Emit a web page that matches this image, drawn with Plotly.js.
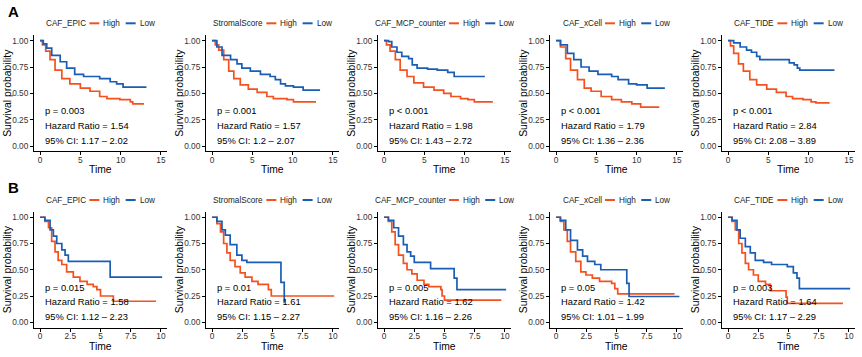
<!DOCTYPE html>
<html>
<head>
<meta charset="utf-8">
<script src="https://cdn.plot.ly/plotly-3.0.1.min.js"></script>
<style>html,body{margin:0;padding:0;background:#fff;}#plot{width:862px;height:357px;}</style>
</head>
<body>
<div id="plot"></div>
<script>
// ---------------- DATA ----------------
const groups = ["CAF_EPIC", "StromalScore", "CAF_MCP_counter", "CAF_xCell", "CAF_TIDE"];
const rowLabels = ["A", "B"];
const strata = ["High", "Low"];

// Row A (cohort A): time / survival step points
const A1_high_t = [0,0.3,0.7,1.24,1.86,2.7,3.7,5.0,6.2,7.4,8.3,9.9,11.2,11.5,12.9];
const A1_high_s = [1,0.96,0.9,0.82,0.72,0.64,0.59,0.55,0.52,0.47,0.45,0.44,0.42,0.40,0.40];
const A1_low_t  = [0,0.4,0.83,1.45,2.5,3.3,4.3,5.4,7.4,8.7,9.5,10.3,13.2];
const A1_low_s  = [1,0.97,0.93,0.86,0.80,0.74,0.68,0.66,0.64,0.61,0.59,0.56,0.56];

const A2_high_t = [0,0.4,0.83,1.45,2.07,2.7,3.5,4.5,5.6,6.8,7.6,9.3,10.1,12.9];
const A2_high_s = [1,0.96,0.91,0.82,0.71,0.64,0.58,0.54,0.51,0.47,0.45,0.44,0.42,0.42];
const A2_low_t  = [0,0.6,1.24,2.3,3.1,3.7,4.75,6.0,7.2,7.85,8.5,9.1,10.1,11.3,13.4];
const A2_low_s  = [1,0.94,0.86,0.82,0.78,0.74,0.71,0.68,0.66,0.63,0.59,0.57,0.56,0.53,0.53];

const A3_high_t = [0,0.3,0.75,1.4,2.0,2.85,3.7,4.9,6.2,7.4,8.3,9.5,10.4,11.2,13.5];
const A3_high_s = [1,0.96,0.90,0.82,0.72,0.66,0.60,0.56,0.53,0.50,0.47,0.45,0.44,0.42,0.42];
const A3_low_t  = [0,0.55,0.96,1.6,2.2,3.05,3.5,4.1,5.4,6.6,7.9,8.7,12.5];
const A3_low_s  = [1,0.99,0.94,0.89,0.85,0.83,0.77,0.74,0.73,0.72,0.70,0.66,0.66];

const A4_high_t = [0,0.55,1.2,1.8,2.66,3.5,4.35,5.6,6.9,8.1,9.4,10.5,12.8];
const A4_high_s = [1,0.94,0.83,0.72,0.63,0.55,0.52,0.47,0.44,0.42,0.40,0.37,0.37];
const A4_low_t  = [0,0.55,1.4,2.2,3.1,4.1,5.2,6.9,7.7,9.0,10.0,11.3,13.5];
const A4_low_s  = [1,0.96,0.88,0.82,0.75,0.71,0.68,0.66,0.63,0.59,0.58,0.55,0.55];

const A5_high_t = [0,0.3,0.7,1.3,1.9,2.7,3.55,4.8,6.0,7.2,8.0,9.3,10.3,10.9,12.6];
const A5_high_s = [1,0.95,0.88,0.78,0.71,0.63,0.58,0.54,0.51,0.47,0.45,0.44,0.42,0.41,0.41];
const A5_low_t  = [0,0.7,1.5,2.3,2.9,3.55,3.95,7.6,8.2,8.6,8.9,13.2];
const A5_low_s  = [1,0.98,0.94,0.91,0.89,0.85,0.82,0.79,0.77,0.74,0.72,0.72];

// Row B (cohort B)
const B1_high_t = [0,0.4,0.7,0.96,1.24,1.5,1.8,2.2,2.75,3.3,3.9,4.4,4.7,5.0,6.06,9.6];
const B1_high_s = [1,0.96,0.90,0.77,0.67,0.59,0.55,0.48,0.43,0.39,0.36,0.34,0.31,0.25,0.20,0.20];
const B1_low_t  = [0,0.4,0.83,1.1,1.38,1.8,2.07,2.34,5.8,10.1];
const B1_low_s  = [1,0.97,0.88,0.82,0.75,0.69,0.64,0.58,0.43,0.43];

const B2_high_t = [0,0.4,0.7,0.96,1.23,1.5,1.9,2.33,2.74,3.3,3.8,4.66,4.9,10.1];
const B2_high_s = [1,0.94,0.86,0.75,0.66,0.59,0.53,0.47,0.43,0.39,0.36,0.31,0.25,0.25];
const B2_low_t  = [0,0.4,0.82,1.1,1.5,2.05,2.47,2.88,5.7,5.97,6.0];
const B2_low_s  = [1,0.96,0.88,0.83,0.74,0.64,0.59,0.57,0.38,0.19,0.19];

const B3_high_t = [0,0.36,0.64,0.92,1.2,1.6,1.9,2.3,2.74,3.3,3.7,4.7,4.8,5.0,9.7];
const B3_high_s = [1,0.96,0.86,0.74,0.64,0.56,0.50,0.46,0.40,0.36,0.34,0.31,0.25,0.21,0.21];
const B3_low_t  = [0,0.36,0.8,1.2,1.6,1.9,2.2,2.5,3.85,5.8,6.03,10.1];
const B3_low_s  = [1,0.97,0.90,0.82,0.74,0.67,0.63,0.57,0.51,0.42,0.31,0.31];

const B4_high_t = [0,0.36,0.65,0.93,1.2,1.63,2.05,2.47,3.0,3.6,4.6,4.86,5.1,9.8];
const B4_high_s = [1,0.96,0.88,0.77,0.67,0.58,0.48,0.45,0.42,0.39,0.37,0.32,0.27,0.27];
const B4_low_t  = [0,0.36,0.8,1.2,1.77,2.2,2.6,3.2,3.7,5.85,6.04,10.2];
const B4_low_s  = [1,0.97,0.88,0.78,0.69,0.63,0.58,0.55,0.50,0.37,0.245,0.245];

const B5_high_t = [0,0.33,0.6,0.88,1.15,1.43,1.7,2.1,2.5,3.1,3.5,4.8,4.9,9.5];
const B5_high_s = [1,0.96,0.88,0.75,0.66,0.56,0.50,0.45,0.39,0.36,0.30,0.24,0.18,0.18];
const B5_low_t  = [0,0.33,0.74,1.0,1.43,1.84,2.25,2.94,3.6,4.9,5.4,5.7,5.9,10.1];
const B5_low_s  = [1,0.97,0.88,0.80,0.72,0.66,0.59,0.57,0.55,0.53,0.47,0.42,0.32,0.32];

const pTextA  = ["p = 0.003", "p = 0.001", "p < 0.001", "p < 0.001", "p < 0.001"];
const hrA     = ["1.54", "1.57", "1.98", "1.79", "2.84"];
const ciA     = ["1.17 – 2.02", "1.2 – 2.07", "1.43 – 2.72", "1.36 – 2.36", "2.08 – 3.89"];
const pTextB  = ["p = 0.015", "p = 0.01", "p = 0.005", "p = 0.05", "p = 0.003"];
const hrB     = ["1.58", "1.61", "1.62", "1.42", "1.64"];
const ciB     = ["1.12 – 2.23", "1.15 – 2.27", "1.16 – 2.26", "1.01 – 1.99", "1.17 – 2.29"];

const xTickValsA = [0, 5, 10, 15];
const xTickTextA = ["0", "5", "10", "15"];
const xTickValsB = [0, 2.5, 5, 7.5, 10];
const xTickTextB = ["0", "2.5", "5", "7.5", "10"];
const yTickVals = [0, 0.25, 0.5, 0.75, 1];
const yTickText = ["0.00", "0.25", "0.50", "0.75", "1.00"];

// ---------------- BUILD ----------------
const curves = [
  [[A1_high_t,A1_high_s,A1_low_t,A1_low_s],[A2_high_t,A2_high_s,A2_low_t,A2_low_s],[A3_high_t,A3_high_s,A3_low_t,A3_low_s],[A4_high_t,A4_high_s,A4_low_t,A4_low_s],[A5_high_t,A5_high_s,A5_low_t,A5_low_s]],
  [[B1_high_t,B1_high_s,B1_low_t,B1_low_s],[B2_high_t,B2_high_s,B2_low_t,B2_low_s],[B3_high_t,B3_high_s,B3_low_t,B3_low_s],[B4_high_t,B4_high_s,B4_low_t,B4_low_s],[B5_high_t,B5_high_s,B5_low_t,B5_low_s]]
];
const stats = [[pTextA,hrA,ciA],[pTextB,hrB,ciB]];

const W = 862, H = 357;
const RED = "#F4511E", BLUE = "#1A5DB5";
const FONT = "Liberation Sans, Arial, sans-serif";
const px = v => v / W, py = v => 1 - v / H;

const rowTop = [35.4, 212.0], rowBot = [151.3, 327.5];
const panelLeft0 = 34, panelW = 133, panelStep = 172;
const legendY = [23.3, 200];
const timeY = [169.5, 346.5];
const letterY = [12, 187];

const traces = [], annotations = [], shapes = [];
const legendItems = []; // {center, ly, ann:[t,h,l], shp:[r,b]}
const layout = {
  width: W, height: H, margin: {l:0, r:0, t:0, b:0},
  paper_bgcolor: "#fff", plot_bgcolor: "#fff", showlegend: false,
  font: {family: FONT, color: "#000"}
};

for (let r = 0; r < 2; r++) {
  annotations.push({text: "<b>" + rowLabels[r] + "</b>", xref: "paper", yref: "paper", x: px(13), y: py(letterY[r]),
    showarrow: false, xanchor: "center", yanchor: "middle", font: {size: 15, family: FONT, color: "#000"}});
  for (let k = 0; k < 5; k++) {
    const idx = r * 5 + k + 1;
    const xa = "xaxis" + (idx === 1 ? "" : idx), ya = "yaxis" + (idx === 1 ? "" : idx);
    const xr = "x" + (idx === 1 ? "" : idx), yr = "y" + (idx === 1 ? "" : idx);
    const left = panelLeft0 + panelStep * k, right = left + panelW;
    const xmax = r === 0 ? 15 : 10;
    layout[xa] = {
      domain: [px(left), px(right)], anchor: yr, range: [-0.05 * xmax, 1.05 * xmax],
      showline: true, linecolor: "#000", linewidth: 1, ticks: "outside", ticklen: 3, tickcolor: "#000", tickwidth: 1,
      tickvals: r === 0 ? xTickValsA : xTickValsB, ticktext: r === 0 ? xTickTextA : xTickTextB, ticklabelstandoff: -2,
      tickfont: {size: 8.3, color: "#333", family: FONT}, showgrid: false, zeroline: false, fixedrange: true
    };
    layout[ya] = {
      domain: [py(rowBot[r]), py(rowTop[r])], anchor: xr, range: [-0.05, 1.05],
      showline: true, linecolor: "#000", linewidth: 1, ticks: "outside", ticklen: 3, tickcolor: "#000", tickwidth: 1,
      tickvals: yTickVals, ticktext: yTickText,
      tickfont: {size: 8.3, color: "#333", family: FONT}, showgrid: false, zeroline: false, fixedrange: true
    };
    const c = curves[r][k];
    traces.push({x: c[0], y: c[1], xaxis: xr, yaxis: yr, mode: "lines", line: {color: RED, width: 1.7, shape: "hv"}, name: strata[0], hoverinfo: "skip"});
    traces.push({x: c[2], y: c[3], xaxis: xr, yaxis: yr, mode: "lines", line: {color: BLUE, width: 1.7, shape: "hv"}, name: strata[1], hoverinfo: "skip"});

    // stats text
    const st = stats[r];
    const tx = r === 0 ? 0.35 : 0.22;
    const lines = [st[0][k], "Hazard Ratio = " + st[1][k], "95% CI: " + st[2][k]];
    const ys = [0.335, 0.193, 0.055];
    for (let i = 0; i < 3; i++) {
      annotations.push({text: lines[i], xref: xr, yref: yr, x: tx, y: ys[i], xanchor: "left", yanchor: "middle",
        showarrow: false, font: {size: 9.4, family: FONT, color: "#000"}});
    }

    // axis titles
    const x0px = left + 6;
    annotations.push({text: "Time", xref: "paper", yref: "paper", x: px((left + right) / 2), y: py(timeY[r]),
      xanchor: "center", yanchor: "middle", showarrow: false, font: {size: 10.3, family: FONT, color: "#000"}});
    annotations.push({text: "Survival probability", xref: "paper", yref: "paper", x: px(x0px - 32.5), y: py((rowTop[r] + rowBot[r]) / 2),
      xanchor: "center", yanchor: "middle", textangle: -90, showarrow: false, font: {size: 10.4, family: FONT, color: "#000"}});

    // legend (title, High, Low) -- positions finalised after measuring rendered text
    const fs = 8.2, ly = legendY[r];
    const item = {center: (left + right) / 2, ly: ly, ann: [], shp: []};
    [groups[k], strata[0], strata[1]].forEach(t => {
      item.ann.push(annotations.length);
      annotations.push({text: t, xref: "paper", yref: "paper", x: px(item.center), y: py(ly), xanchor: "left", yanchor: "middle",
        showarrow: false, borderpad: 0, borderwidth: 0, font: {size: fs, family: FONT, color: "#222"}});
    });
    [RED, BLUE].forEach(col => {
      item.shp.push(shapes.length);
      shapes.push({type: "line", xref: "paper", yref: "paper", x0: px(item.center), x1: px(item.center + 10), y0: py(ly), y1: py(ly), line: {color: col, width: 2}});
    });
    legendItems.push(item);
  }
}
layout.annotations = annotations;
layout.shapes = shapes;

function placeLegends() {
  const nodes = document.querySelectorAll("#plot .annotation-text");
  const widthOf = i => {
    const n = nodes[i];
    if (!n) return 30;
    try { return n.getBBox().width; } catch (e) { return 30; }
  };
  const segL = 10, g1 = 3, g2 = 4, g3 = 5;
  legendItems.forEach(it => {
    const wT = widthOf(it.ann[0]), wH = widthOf(it.ann[1]), wL = widthOf(it.ann[2]);
    const total = wT + g1 + segL + g2 + wH + g3 + segL + g2 + wL;
    let cx = it.center - total / 2;
    annotations[it.ann[0]].x = px(cx); cx += wT + g1;
    shapes[it.shp[0]].x0 = px(cx); shapes[it.shp[0]].x1 = px(cx + segL); cx += segL + g2;
    annotations[it.ann[1]].x = px(cx); cx += wH + g3;
    shapes[it.shp[1]].x0 = px(cx); shapes[it.shp[1]].x1 = px(cx + segL); cx += segL + g2;
    annotations[it.ann[2]].x = px(cx);
  });
  return Plotly.relayout("plot", {annotations: annotations, shapes: shapes});
}

Plotly.newPlot("plot", traces, layout, {staticPlot: true, displayModeBar: false}).then(placeLegends);
</script>
</body>
</html>
